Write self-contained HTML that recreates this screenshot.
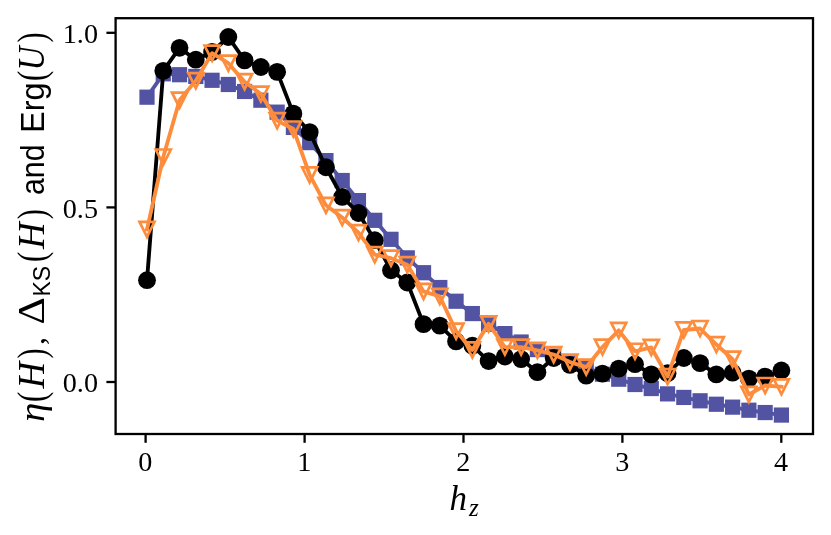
<!DOCTYPE html>
<html><head><meta charset="utf-8"><title>plot</title>
<style>
html,body{margin:0;padding:0;background:#fff;}
svg{display:block;}
.ser{font-family:"Liberation Serif",serif;}
.san{font-family:"Liberation Sans",sans-serif;}
</style></head><body>
<svg width="831" height="535" viewBox="0 0 831 535">
<rect width="831" height="535" fill="#fff"/>
<defs><clipPath id="ax"><rect x="115.6" y="18.2" width="697.4" height="415.8"/></clipPath></defs>

<g clip-path="url(#ax)">
<polyline points="147.00,97.19 163.27,73.83 179.53,74.70 195.80,76.45 212.07,80.29 228.33,84.48 244.60,91.47 260.87,100.20 277.14,112.14 293.40,127.43 309.67,142.62 325.94,160.61 342.20,180.51 358.47,200.59 374.74,220.32 391.00,239.32 407.27,257.86 423.54,272.70 439.81,287.51 456.07,301.23 472.34,313.56 488.61,324.21 504.87,333.60 521.14,342.02 537.41,349.59 553.67,356.16 569.94,362.10 586.21,367.40 602.48,374.21 618.74,379.21 635.01,384.51 651.28,388.53 667.54,393.87 683.81,397.43 700.08,400.79 716.35,404.24 732.61,407.14 748.88,410.22 765.15,412.56 781.41,415.07" fill="none" stroke="#5254a3" stroke-width="3.85" stroke-linejoin="round" stroke-linecap="square"/>
<rect x="139.40" y="89.59" width="15.2" height="15.2" fill="#5254a3"/>
<rect x="155.67" y="66.23" width="15.2" height="15.2" fill="#5254a3"/>
<rect x="171.93" y="67.10" width="15.2" height="15.2" fill="#5254a3"/>
<rect x="188.20" y="68.85" width="15.2" height="15.2" fill="#5254a3"/>
<rect x="204.47" y="72.69" width="15.2" height="15.2" fill="#5254a3"/>
<rect x="220.73" y="76.88" width="15.2" height="15.2" fill="#5254a3"/>
<rect x="237.00" y="83.87" width="15.2" height="15.2" fill="#5254a3"/>
<rect x="253.27" y="92.60" width="15.2" height="15.2" fill="#5254a3"/>
<rect x="269.54" y="104.54" width="15.2" height="15.2" fill="#5254a3"/>
<rect x="285.80" y="119.83" width="15.2" height="15.2" fill="#5254a3"/>
<rect x="302.07" y="135.02" width="15.2" height="15.2" fill="#5254a3"/>
<rect x="318.34" y="153.01" width="15.2" height="15.2" fill="#5254a3"/>
<rect x="334.60" y="172.91" width="15.2" height="15.2" fill="#5254a3"/>
<rect x="350.87" y="192.99" width="15.2" height="15.2" fill="#5254a3"/>
<rect x="367.14" y="212.72" width="15.2" height="15.2" fill="#5254a3"/>
<rect x="383.40" y="231.72" width="15.2" height="15.2" fill="#5254a3"/>
<rect x="399.67" y="250.26" width="15.2" height="15.2" fill="#5254a3"/>
<rect x="415.94" y="265.10" width="15.2" height="15.2" fill="#5254a3"/>
<rect x="432.21" y="279.91" width="15.2" height="15.2" fill="#5254a3"/>
<rect x="448.47" y="293.63" width="15.2" height="15.2" fill="#5254a3"/>
<rect x="464.74" y="305.96" width="15.2" height="15.2" fill="#5254a3"/>
<rect x="481.01" y="316.61" width="15.2" height="15.2" fill="#5254a3"/>
<rect x="497.27" y="326.00" width="15.2" height="15.2" fill="#5254a3"/>
<rect x="513.54" y="334.42" width="15.2" height="15.2" fill="#5254a3"/>
<rect x="529.81" y="341.99" width="15.2" height="15.2" fill="#5254a3"/>
<rect x="546.07" y="348.56" width="15.2" height="15.2" fill="#5254a3"/>
<rect x="562.34" y="354.50" width="15.2" height="15.2" fill="#5254a3"/>
<rect x="578.61" y="359.80" width="15.2" height="15.2" fill="#5254a3"/>
<rect x="594.88" y="366.61" width="15.2" height="15.2" fill="#5254a3"/>
<rect x="611.14" y="371.61" width="15.2" height="15.2" fill="#5254a3"/>
<rect x="627.41" y="376.91" width="15.2" height="15.2" fill="#5254a3"/>
<rect x="643.68" y="380.93" width="15.2" height="15.2" fill="#5254a3"/>
<rect x="659.94" y="386.27" width="15.2" height="15.2" fill="#5254a3"/>
<rect x="676.21" y="389.83" width="15.2" height="15.2" fill="#5254a3"/>
<rect x="692.48" y="393.19" width="15.2" height="15.2" fill="#5254a3"/>
<rect x="708.75" y="396.64" width="15.2" height="15.2" fill="#5254a3"/>
<rect x="725.01" y="399.54" width="15.2" height="15.2" fill="#5254a3"/>
<rect x="741.28" y="402.62" width="15.2" height="15.2" fill="#5254a3"/>
<rect x="757.55" y="404.95" width="15.2" height="15.2" fill="#5254a3"/>
<rect x="773.81" y="407.47" width="15.2" height="15.2" fill="#5254a3"/>
<polyline points="147.00,280.21 163.27,70.86 179.53,47.82 195.80,59.69 212.07,52.01 228.33,36.99 244.60,60.39 260.87,67.02 277.14,71.91 293.40,113.64 309.67,132.15 325.94,167.24 342.20,196.92 358.47,212.99 374.74,240.22 391.00,270.26 407.27,282.48 423.54,324.14 439.81,325.64 456.07,341.39 472.34,345.68 488.61,361.05 504.87,356.51 521.14,359.09 537.41,372.22 553.67,358.01 569.94,364.89 586.21,375.71 602.48,373.69 618.74,368.63 635.01,364.19 651.28,374.39 667.54,373.20 683.81,358.01 700.08,363.14 716.35,374.39 732.61,372.71 748.88,378.65 765.15,376.59 781.41,370.48" fill="none" stroke="#000" stroke-width="3.85" stroke-linejoin="round" stroke-linecap="square"/>
<circle cx="147.00" cy="280.21" r="8.9" fill="#000"/>
<circle cx="163.27" cy="70.86" r="8.9" fill="#000"/>
<circle cx="179.53" cy="47.82" r="8.9" fill="#000"/>
<circle cx="195.80" cy="59.69" r="8.9" fill="#000"/>
<circle cx="212.07" cy="52.01" r="8.9" fill="#000"/>
<circle cx="228.33" cy="36.99" r="8.9" fill="#000"/>
<circle cx="244.60" cy="60.39" r="8.9" fill="#000"/>
<circle cx="260.87" cy="67.02" r="8.9" fill="#000"/>
<circle cx="277.14" cy="71.91" r="8.9" fill="#000"/>
<circle cx="293.40" cy="113.64" r="8.9" fill="#000"/>
<circle cx="309.67" cy="132.15" r="8.9" fill="#000"/>
<circle cx="325.94" cy="167.24" r="8.9" fill="#000"/>
<circle cx="342.20" cy="196.92" r="8.9" fill="#000"/>
<circle cx="358.47" cy="212.99" r="8.9" fill="#000"/>
<circle cx="374.74" cy="240.22" r="8.9" fill="#000"/>
<circle cx="391.00" cy="270.26" r="8.9" fill="#000"/>
<circle cx="407.27" cy="282.48" r="8.9" fill="#000"/>
<circle cx="423.54" cy="324.14" r="8.9" fill="#000"/>
<circle cx="439.81" cy="325.64" r="8.9" fill="#000"/>
<circle cx="456.07" cy="341.39" r="8.9" fill="#000"/>
<circle cx="472.34" cy="345.68" r="8.9" fill="#000"/>
<circle cx="488.61" cy="361.05" r="8.9" fill="#000"/>
<circle cx="504.87" cy="356.51" r="8.9" fill="#000"/>
<circle cx="521.14" cy="359.09" r="8.9" fill="#000"/>
<circle cx="537.41" cy="372.22" r="8.9" fill="#000"/>
<circle cx="553.67" cy="358.01" r="8.9" fill="#000"/>
<circle cx="569.94" cy="364.89" r="8.9" fill="#000"/>
<circle cx="586.21" cy="375.71" r="8.9" fill="#000"/>
<circle cx="602.48" cy="373.69" r="8.9" fill="#000"/>
<circle cx="618.74" cy="368.63" r="8.9" fill="#000"/>
<circle cx="635.01" cy="364.19" r="8.9" fill="#000"/>
<circle cx="651.28" cy="374.39" r="8.9" fill="#000"/>
<circle cx="667.54" cy="373.20" r="8.9" fill="#000"/>
<circle cx="683.81" cy="358.01" r="8.9" fill="#000"/>
<circle cx="700.08" cy="363.14" r="8.9" fill="#000"/>
<circle cx="716.35" cy="374.39" r="8.9" fill="#000"/>
<circle cx="732.61" cy="372.71" r="8.9" fill="#000"/>
<circle cx="748.88" cy="378.65" r="8.9" fill="#000"/>
<circle cx="765.15" cy="376.59" r="8.9" fill="#000"/>
<circle cx="781.41" cy="370.48" r="8.9" fill="#000"/>
<polyline points="147.00,229.40 163.27,157.01 179.53,100.20 195.80,80.64 212.07,53.19 228.33,63.18 244.60,81.69 260.87,94.08 277.14,120.62 293.40,129.00 309.67,174.92 325.94,205.30 342.20,217.53 358.47,232.54 374.74,254.65 391.00,258.17 407.27,264.67 423.54,291.38 439.81,296.45 456.07,331.19 472.34,349.87 488.61,323.86 504.87,347.08 521.14,347.08 537.41,350.33 553.67,354.62 569.94,362.10 586.21,367.09 602.48,347.08 618.74,330.32 635.01,351.27 651.28,347.36 667.54,376.52 683.81,329.97 700.08,328.50 716.35,344.53 732.61,359.20 748.88,394.47 765.15,385.49 781.41,386.78" fill="none" stroke="#fd8d3c" stroke-width="3.85" stroke-linejoin="round" stroke-linecap="square"/>
<path d="M139.50,221.90 L154.50,221.90 L147.00,236.90 Z" fill="none" stroke="#fd8d3c" stroke-width="2.7" stroke-linejoin="miter"/>
<path d="M155.77,149.51 L170.77,149.51 L163.27,164.51 Z" fill="none" stroke="#fd8d3c" stroke-width="2.7" stroke-linejoin="miter"/>
<path d="M172.03,92.70 L187.03,92.70 L179.53,107.70 Z" fill="none" stroke="#fd8d3c" stroke-width="2.7" stroke-linejoin="miter"/>
<path d="M188.30,73.14 L203.30,73.14 L195.80,88.14 Z" fill="none" stroke="#fd8d3c" stroke-width="2.7" stroke-linejoin="miter"/>
<path d="M204.57,45.69 L219.57,45.69 L212.07,60.69 Z" fill="none" stroke="#fd8d3c" stroke-width="2.7" stroke-linejoin="miter"/>
<path d="M220.83,55.68 L235.83,55.68 L228.33,70.68 Z" fill="none" stroke="#fd8d3c" stroke-width="2.7" stroke-linejoin="miter"/>
<path d="M237.10,74.19 L252.10,74.19 L244.60,89.19 Z" fill="none" stroke="#fd8d3c" stroke-width="2.7" stroke-linejoin="miter"/>
<path d="M253.37,86.58 L268.37,86.58 L260.87,101.58 Z" fill="none" stroke="#fd8d3c" stroke-width="2.7" stroke-linejoin="miter"/>
<path d="M269.64,113.12 L284.64,113.12 L277.14,128.12 Z" fill="none" stroke="#fd8d3c" stroke-width="2.7" stroke-linejoin="miter"/>
<path d="M285.90,121.50 L300.90,121.50 L293.40,136.50 Z" fill="none" stroke="#fd8d3c" stroke-width="2.7" stroke-linejoin="miter"/>
<path d="M302.17,167.42 L317.17,167.42 L309.67,182.42 Z" fill="none" stroke="#fd8d3c" stroke-width="2.7" stroke-linejoin="miter"/>
<path d="M318.44,197.80 L333.44,197.80 L325.94,212.80 Z" fill="none" stroke="#fd8d3c" stroke-width="2.7" stroke-linejoin="miter"/>
<path d="M334.70,210.03 L349.70,210.03 L342.20,225.03 Z" fill="none" stroke="#fd8d3c" stroke-width="2.7" stroke-linejoin="miter"/>
<path d="M350.97,225.04 L365.97,225.04 L358.47,240.04 Z" fill="none" stroke="#fd8d3c" stroke-width="2.7" stroke-linejoin="miter"/>
<path d="M367.24,247.15 L382.24,247.15 L374.74,262.15 Z" fill="none" stroke="#fd8d3c" stroke-width="2.7" stroke-linejoin="miter"/>
<path d="M383.50,250.67 L398.50,250.67 L391.00,265.67 Z" fill="none" stroke="#fd8d3c" stroke-width="2.7" stroke-linejoin="miter"/>
<path d="M399.77,257.17 L414.77,257.17 L407.27,272.17 Z" fill="none" stroke="#fd8d3c" stroke-width="2.7" stroke-linejoin="miter"/>
<path d="M416.04,283.88 L431.04,283.88 L423.54,298.88 Z" fill="none" stroke="#fd8d3c" stroke-width="2.7" stroke-linejoin="miter"/>
<path d="M432.31,288.95 L447.31,288.95 L439.81,303.95 Z" fill="none" stroke="#fd8d3c" stroke-width="2.7" stroke-linejoin="miter"/>
<path d="M448.57,323.69 L463.57,323.69 L456.07,338.69 Z" fill="none" stroke="#fd8d3c" stroke-width="2.7" stroke-linejoin="miter"/>
<path d="M464.84,342.37 L479.84,342.37 L472.34,357.37 Z" fill="none" stroke="#fd8d3c" stroke-width="2.7" stroke-linejoin="miter"/>
<path d="M481.11,316.36 L496.11,316.36 L488.61,331.36 Z" fill="none" stroke="#fd8d3c" stroke-width="2.7" stroke-linejoin="miter"/>
<path d="M497.37,339.58 L512.37,339.58 L504.87,354.58 Z" fill="none" stroke="#fd8d3c" stroke-width="2.7" stroke-linejoin="miter"/>
<path d="M513.64,339.58 L528.64,339.58 L521.14,354.58 Z" fill="none" stroke="#fd8d3c" stroke-width="2.7" stroke-linejoin="miter"/>
<path d="M529.91,342.83 L544.91,342.83 L537.41,357.83 Z" fill="none" stroke="#fd8d3c" stroke-width="2.7" stroke-linejoin="miter"/>
<path d="M546.17,347.12 L561.17,347.12 L553.67,362.12 Z" fill="none" stroke="#fd8d3c" stroke-width="2.7" stroke-linejoin="miter"/>
<path d="M562.44,354.60 L577.44,354.60 L569.94,369.60 Z" fill="none" stroke="#fd8d3c" stroke-width="2.7" stroke-linejoin="miter"/>
<path d="M578.71,359.59 L593.71,359.59 L586.21,374.59 Z" fill="none" stroke="#fd8d3c" stroke-width="2.7" stroke-linejoin="miter"/>
<path d="M594.98,339.58 L609.98,339.58 L602.48,354.58 Z" fill="none" stroke="#fd8d3c" stroke-width="2.7" stroke-linejoin="miter"/>
<path d="M611.24,322.82 L626.24,322.82 L618.74,337.82 Z" fill="none" stroke="#fd8d3c" stroke-width="2.7" stroke-linejoin="miter"/>
<path d="M627.51,343.77 L642.51,343.77 L635.01,358.77 Z" fill="none" stroke="#fd8d3c" stroke-width="2.7" stroke-linejoin="miter"/>
<path d="M643.78,339.86 L658.78,339.86 L651.28,354.86 Z" fill="none" stroke="#fd8d3c" stroke-width="2.7" stroke-linejoin="miter"/>
<path d="M660.04,369.02 L675.04,369.02 L667.54,384.02 Z" fill="none" stroke="#fd8d3c" stroke-width="2.7" stroke-linejoin="miter"/>
<path d="M676.31,322.47 L691.31,322.47 L683.81,337.47 Z" fill="none" stroke="#fd8d3c" stroke-width="2.7" stroke-linejoin="miter"/>
<path d="M692.58,321.00 L707.58,321.00 L700.08,336.00 Z" fill="none" stroke="#fd8d3c" stroke-width="2.7" stroke-linejoin="miter"/>
<path d="M708.85,337.03 L723.85,337.03 L716.35,352.03 Z" fill="none" stroke="#fd8d3c" stroke-width="2.7" stroke-linejoin="miter"/>
<path d="M725.11,351.70 L740.11,351.70 L732.61,366.70 Z" fill="none" stroke="#fd8d3c" stroke-width="2.7" stroke-linejoin="miter"/>
<path d="M741.38,386.97 L756.38,386.97 L748.88,401.97 Z" fill="none" stroke="#fd8d3c" stroke-width="2.7" stroke-linejoin="miter"/>
<path d="M757.65,377.99 L772.65,377.99 L765.15,392.99 Z" fill="none" stroke="#fd8d3c" stroke-width="2.7" stroke-linejoin="miter"/>
<path d="M773.91,379.28 L788.91,379.28 L781.41,394.28 Z" fill="none" stroke="#fd8d3c" stroke-width="2.7" stroke-linejoin="miter"/>
</g>
<rect x="115.6" y="18.2" width="697.4" height="415.8" fill="none" stroke="#000" stroke-width="2.3"/>
<line x1="145.6" y1="434.0" x2="145.6" y2="442.8" stroke="#000" stroke-width="2.3"/>
<line x1="304.6" y1="434.0" x2="304.6" y2="442.8" stroke="#000" stroke-width="2.3"/>
<line x1="463.5" y1="434.0" x2="463.5" y2="442.8" stroke="#000" stroke-width="2.3"/>
<line x1="622.4" y1="434.0" x2="622.4" y2="442.8" stroke="#000" stroke-width="2.3"/>
<line x1="781.3" y1="434.0" x2="781.3" y2="442.8" stroke="#000" stroke-width="2.3"/>
<line x1="115.6" y1="382.00" x2="106.39999999999999" y2="382.00" stroke="#000" stroke-width="2.3"/>
<line x1="115.6" y1="207.40" x2="106.39999999999999" y2="207.40" stroke="#000" stroke-width="2.3"/>
<line x1="115.6" y1="32.80" x2="106.39999999999999" y2="32.80" stroke="#000" stroke-width="2.3"/>
<text class="ser" x="145.4" y="471.2" font-size="28.2" text-anchor="middle">0</text>
<text class="ser" x="304.40000000000003" y="471.2" font-size="28.2" text-anchor="middle">1</text>
<text class="ser" x="463.3" y="471.2" font-size="28.2" text-anchor="middle">2</text>
<text class="ser" x="622.1999999999999" y="471.2" font-size="28.2" text-anchor="middle">3</text>
<text class="ser" x="781.0999999999999" y="471.2" font-size="28.2" text-anchor="middle">4</text>
<text class="ser" x="98.0" y="392.20" font-size="28.2" text-anchor="end">0.0</text>
<text class="ser" x="98.0" y="217.60" font-size="28.2" text-anchor="end">0.5</text>
<text class="ser" x="98.0" y="43.00" font-size="28.2" text-anchor="end">1.0</text>
<text class="ser" x="449.5" y="510" font-size="35" font-style="italic">h</text>
<text class="ser" x="469.0" y="515.7" font-size="25" font-style="italic">z</text>
<text class="ser" transform="translate(44.0,422.0) rotate(-90) scale(1.08,1)" font-size="36" font-style="italic">η</text>
<text class="ser" transform="translate(45.2,401.9) rotate(-90) scale(0.76,1)" font-size="40">(</text>
<text class="ser" transform="translate(44.0,388.6) rotate(-90) scale(1.0,1)" font-size="37" font-style="italic">H</text>
<text class="ser" transform="translate(45.2,358.6) rotate(-90) scale(0.76,1)" font-size="40">)</text>
<text class="ser" transform="translate(44.0,345.0) rotate(-90) scale(1.0,1)" font-size="32">,</text>
<text class="ser" transform="translate(44.0,324.5) rotate(-90) scale(1.15,1)" font-size="37">Δ</text>
<text class="san" transform="translate(50.0,296.5) rotate(-90) scale(0.94,1)" font-size="24.5">KS</text>
<text class="ser" transform="translate(45.2,261.9) rotate(-90) scale(0.76,1)" font-size="40">(</text>
<text class="ser" transform="translate(44.0,249.0) rotate(-90) scale(1.0,1)" font-size="37" font-style="italic">H</text>
<text class="ser" transform="translate(45.2,219.2) rotate(-90) scale(0.76,1)" font-size="40">)</text>
<text class="san" transform="translate(44.0,195.0) rotate(-90) scale(0.933,1)" font-size="32.5">and</text>
<text class="san" transform="translate(44.0,133.0) rotate(-90) scale(1.0,1)" font-size="32.5">Erg</text>
<text class="ser" transform="translate(45.2,81.0) rotate(-90) scale(0.76,1)" font-size="40">(</text>
<text class="ser" transform="translate(44.0,70.6) rotate(-90) scale(0.9,1)" font-size="37" font-style="italic">U</text>
<text class="ser" transform="translate(45.2,42.6) rotate(-90) scale(0.76,1)" font-size="40">)</text>
</svg></body></html>
